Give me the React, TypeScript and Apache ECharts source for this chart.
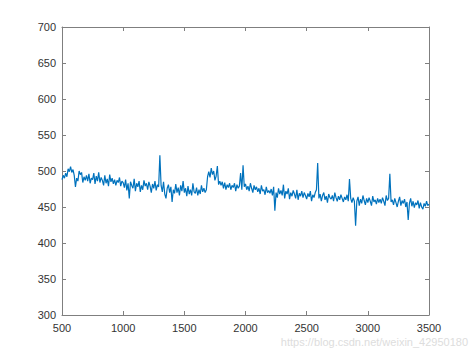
import React, { useEffect, useRef } from "react";
import * as echarts from "echarts";

const xStart = 500;
const xStep = 10;
const seriesValues: number[] = [
  488,494,490,497,492,503,499,506,498,502,
  494,478,490,486,500,495,498,484,492,487,
  494,486,496,483,490,488,497,482,493,486,
  498,484,491,487,480,494,483,489,479,495,
  485,490,482,488,480,487,484,491,479,486,
  484,477,488,473,483,462,485,480,476,489,
  472,483,478,486,471,480,474,487,479,483,
  474,485,479,470,482,476,486,473,481,478,
  522,480,471,485,468,462,476,481,470,478,
  457,474,469,482,470,477,466,480,472,486,
  470,476,465,479,468,474,466,483,471,469,
  477,466,474,468,480,471,476,470,474,492,
  499,491,504,495,500,487,493,507,481,486,
  480,485,476,484,474,481,477,483,474,480,
  477,483,472,481,476,479,497,474,508,478,
  482,474,479,472,483,476,470,480,474,478,
  471,476,468,480,472,474,467,478,470,473,
  469,475,466,478,445,470,463,476,468,473,
  466,481,462,472,468,476,461,470,465,473,
  468,462,474,460,469,465,472,463,470,466,
  461,469,464,472,458,467,463,470,474,511,
  462,468,458,466,470,460,465,456,468,463,
  461,466,458,470,463,458,465,460,467,462,
  457,464,460,467,458,489,462,456,463,458,
  424,458,464,452,461,455,466,459,453,462,
  456,463,458,452,465,457,460,454,462,456,
  461,455,463,458,452,466,459,462,496,457,
  460,453,462,456,450,458,464,452,459,455,
  461,450,457,432,455,462,451,458,449,456,
  453,459,448,456,450,447,455,451,458,452,
  454,
];

const xMin = 500, xMax = 3500, xInterval = 500;
const yMin = 300, yMax = 700, yInterval = 50;
const watermark = "https://blog.csdn.net/weixin_42950180";

export default function App() {
  const ref = useRef<HTMLDivElement>(null);
  useEffect(() => {
    if (!ref.current) return;
    const chart = echarts.init(ref.current, undefined, { renderer: "svg" });
    const data = seriesValues.map((v, i) => [xStart + i * xStep, v]);
    const axisColor = "#7f7f7f";
    const labelColor = "#333333";
    const font = "Liberation Sans, Arial, sans-serif";
    const baseX = {
      type: "value" as const,
      min: xMin, max: xMax, interval: xInterval,
      splitLine: { show: false },
      axisLine: { show: true, onZero: false, lineStyle: { color: axisColor, width: 1 } },
      axisTick: { show: true, inside: true, length: 4, lineStyle: { color: axisColor } },
    };
    const baseY = {
      type: "value" as const,
      min: yMin, max: yMax, interval: yInterval,
      splitLine: { show: false },
      axisLine: { show: true, onZero: false, lineStyle: { color: axisColor, width: 1 } },
      axisTick: { show: true, inside: true, length: 4, lineStyle: { color: axisColor } },
    };
    chart.setOption({
      animation: false,
      backgroundColor: "#ffffff",
      grid: { left: 62, right: 45, top: 27, bottom: 40, containLabel: false },
      xAxis: [
        {
          ...baseX,
          position: "bottom",
          axisLabel: { color: labelColor, fontSize: 11, fontFamily: font, margin: 7, formatter: (v: number) => String(v) },
        },
        { ...baseX, position: "top", axisLabel: { show: false } },
      ],
      yAxis: [
        {
          ...baseY,
          position: "left",
          axisLabel: { color: labelColor, fontSize: 11, fontFamily: font, margin: 6, formatter: (v: number) => String(v) },
        },
        { ...baseY, position: "right", axisLabel: { show: false } },
      ],
      graphic: [
        {
          type: "text",
          right: 6,
          top: 336,
          style: { text: watermark, fill: "#dddddd", fontSize: 11, fontFamily: font },
        },
      ],
      series: [
        {
          type: "line",
          data,
          xAxisIndex: 0,
          yAxisIndex: 0,
          showSymbol: false,
          symbol: "none",
          lineStyle: { color: "#0072BD", width: 1.2 },
        },
      ],
    });
    return () => chart.dispose();
  }, []);
  return <div ref={ref} style={{ position: "fixed", left: 0, top: 0, width: 474, height: 355 }} />;
}
